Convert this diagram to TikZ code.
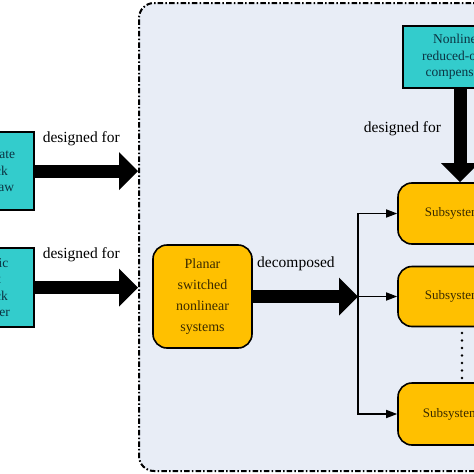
\documentclass[tikz,border=0pt]{standalone}
\usepackage{fontspec}
\setmainfont{Liberation Serif}
\usetikzlibrary{arrows.meta, positioning}
\definecolor{panel}{HTML}{E8EDF6}
\definecolor{tealbox}{HTML}{33CCCC}
\definecolor{tealtext}{HTML}{0B3342}
\definecolor{ambox}{HTML}{FFC000}
\definecolor{amtext}{HTML}{3A2A00}
\tikzstyle{ctrl}=[draw, line width=1.8pt, fill=tealbox, text=tealtext, align=center, inner sep=0pt, font=\fontsize{13.5}{16.5}\selectfont]
\tikzstyle{sys}=[draw, line width=1.6pt, fill=ambox, text=amtext, align=center, rounded corners=14pt, inner sep=0pt]
\tikzstyle{bigarrow}=[line width=13pt, -{Triangle[length=19pt,width=38pt,line width=0pt]}]
\tikzstyle{branch}=[line width=1.5pt, -{Triangle[length=11pt,width=8pt]}]
\tikzstyle{lbl}=[inner sep=0pt, font=\fontsize{15.5}{18}\selectfont]

\begin{document}
\begin{tikzpicture}[x=1pt, y=-1pt]
    \useasboundingbox (0,0) rectangle (474,474);
    \clip (0,0) rectangle (474,474);
    % dash-dot panel round the plant
    \node[draw, fill=panel, line width=2pt, rounded corners=15pt, dash pattern=on 5.5pt off 2.2pt on 1.5pt off 2.2pt, minimum width=461pt, minimum height=468pt] (frame) at (369.5,237) {};
    % controllers
    \node[ctrl, minimum width=101pt, minimum height=78pt] (law) at (-16.5,171) {Linear state\\feedback\\control law};
    \node[ctrl, minimum width=101pt, minimum height=79pt] (dyn) at (-16.5,287.5) {Dynamic\\output\\feedback\\controller};
    \node[ctrl, minimum width=114pt, minimum height=62pt] (comp) at (460,57) {Nonlinear\\reduced-order\\compensator};
    % plant and its subsystems
    \node[sys, minimum width=99pt, minimum height=103pt, font=\fontsize{14}{21}\selectfont] (plan) at (202.5,296.5) {Planar\\switched\\nonlinear\\systems};
    \node[sys, minimum width=120pt, minimum height=61pt, font=\fontsize{13}{16}\selectfont] (sub1) at (458,213.5) {Subsystem 1};
    \node[sys, minimum width=120pt, minimum height=60pt, font=\fontsize{13}{16}\selectfont] (sub2) at (458,296.5) {Subsystem 2};
    \node[sys, minimum width=120pt, minimum height=62pt, font=\fontsize{13}{16}\selectfont] (sub3) at (458,414) {Subsystem $N$};
    \coordinate (split) at (358,296.5);
    % connectors
    \draw[bigarrow] (law.east) -- (law.east -| frame.west) node[lbl, pos=0.45, above=19pt] {designed for};
    \draw[bigarrow] (dyn.east) -- (dyn.east -| frame.west) node[lbl, pos=0.45, above=19pt] {designed for};
    \draw[bigarrow] (comp.south) -- (comp.south |- sub1.north) node[lbl, pos=0.43, left=12.5pt] {designed for};
    \draw[bigarrow] (plan.east) -- (split) node[lbl, pos=0.41, above=19pt] {decomposed};
    \draw[branch] (split) |- (sub1.west);
    \draw[branch] (split) -- (sub2.west);
    \draw[branch] (split) |- (sub3.west);
    \foreach \k in {0,...,6}
        \fill (462,333+7.5*\k) circle (1.4pt);
\end{tikzpicture}
\end{document}
